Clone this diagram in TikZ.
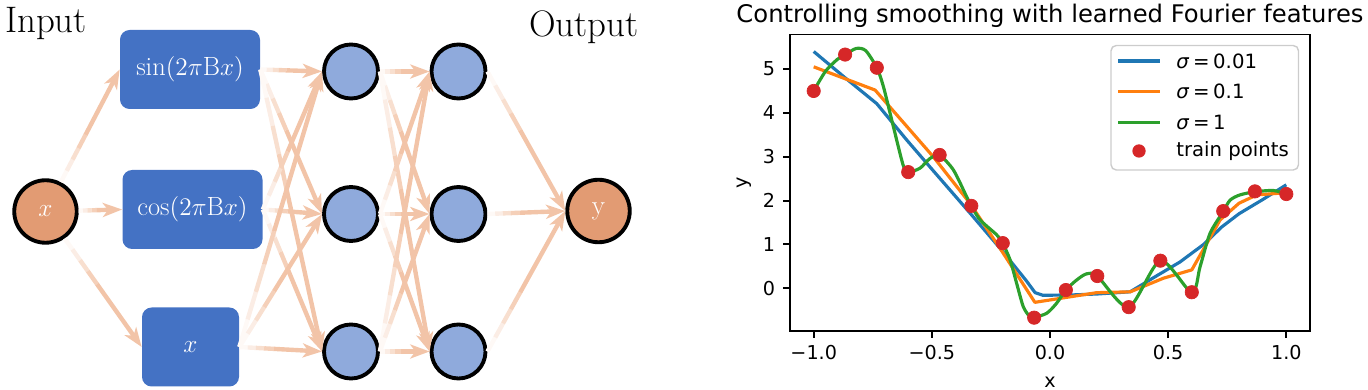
\documentclass[tikz,border=0pt]{standalone}
\usepackage{fontspec}
\newfontfamily\plotfont{DejaVu Sans}
\usetikzlibrary{arrows.meta}
\definecolor{featblue}{HTML}{4472C4}
\definecolor{hiddenblue}{HTML}{8FAADC}
\definecolor{nodeorange}{HTML}{E29B73}
\definecolor{linkpeach}{HTML}{F2C4A8}
\definecolor{legendgray}{HTML}{CCCCCC}
\definecolor{mplblue}{HTML}{1F77B4}
\definecolor{mplorange}{HTML}{FF7F0E}
\definecolor{mplgreen}{HTML}{2CA02C}
\definecolor{mplred}{HTML}{D62728}

% fading connector: pale at its start, full colour with a tip at its end
\newcommand{\peachlink}[2]{%
  \path (#1) -- (#2)
    coordinate[pos=0.1] (f1) coordinate[pos=0.2] (f2)
    coordinate[pos=0.3] (f3) coordinate[pos=0.42] (f4);
  \draw[link, draw=linkpeach!10] (#1) -- (f1);
  \draw[link, draw=linkpeach!30] (f1) -- (f2);
  \draw[link, draw=linkpeach!55] (f2) -- (f3);
  \draw[link, draw=linkpeach!80] (f3) -- (f4);
  \draw[link, ->] (f4) -- (#2);
}

\begin{document}
\begin{tikzpicture}[
  >={Stealth[length=11pt, width=8pt, inset=3pt]},
  headtext/.style={
    font=\fontsize{21}{24}\selectfont,
    inner sep=0pt,
    anchor=base
  },
  ionode/.style={
    circle,
    draw=black,
    line width=2.2pt,
    fill=nodeorange,
    minimum size=1.25cm,
    inner sep=0pt,
    text=white,
    font=\fontsize{15.5}{17}\selectfont
  },
  hiddennode/.style={
    circle,
    draw=black,
    line width=2.2pt,
    fill=hiddenblue,
    minimum size=1.08cm,
    inner sep=0pt
  },
  featbox/.style={
    rectangle,
    rounded corners=5.5pt,
    fill=featblue,
    minimum height=1.58cm,
    inner sep=0pt,
    text=white,
    font=\fontsize{15}{17}\selectfont
  },
  link/.style={
    line width=2.5pt,
    draw=linkpeach
  },
  spine/.style={
    line width=1.1pt,
    draw=black
  },
  ticklabel/.style={
    font=\plotfont\fontsize{10.9}{13}\selectfont,
    inner sep=0pt
  },
  legendtext/.style={
    font=\plotfont\fontsize{11.2}{13}\selectfont,
    inner sep=0pt,
    anchor=base west
  },
  curve/.style={
    line width=1.8pt,
    line join=round
  }
]
  \useasboundingbox (0,0) rectangle (27.36,7.8);

  % ----------------------------------------------------
  % LEFT: FOURIER FEATURE NETWORK
  % ----------------------------------------------------
  \node[headtext] (in_hdr) at (0.92, 7.14) {Input};
  \node[headtext] (out_hdr) at (11.68, 7.06) {Output};

  \node[ionode] (xin) at (0.91, 3.57) {$x$};

  \node[featbox, minimum width=2.8cm] (f_sin) at (3.80, 6.41) {$\sin(2\pi\mathrm{B}x)$};
  \node[featbox, minimum width=2.8cm] (f_cos) at (3.85, 3.61) {$\cos(2\pi\mathrm{B}x)$};
  \node[featbox, minimum width=1.94cm] (f_id) at (3.81, 0.86) {$x$};

  \node[hiddennode] (h1a) at (7.02, 6.37) {};
  \node[hiddennode] (h1b) at (7.02, 3.52) {};
  \node[hiddennode] (h1c) at (7.02, 0.77) {};

  \node[hiddennode] (h2a) at (9.17, 6.37) {};
  \node[hiddennode] (h2b) at (9.17, 3.52) {};
  \node[hiddennode] (h2c) at (9.17, 0.77) {};

  \node[ionode] (yout) at (11.97, 3.58) {y};

  % input to features
  \peachlink{xin}{f_sin.west}
  \peachlink{xin}{f_cos.west}
  \peachlink{xin}{f_id.west}

  % features to first hidden layer
  \peachlink{f_sin.east}{h1a.west}
  \peachlink{f_sin.east}{h1b.west}
  \peachlink{f_sin.east}{h1c.west}
  \peachlink{f_cos.east}{h1a.west}
  \peachlink{f_cos.east}{h1b.west}
  \peachlink{f_cos.east}{h1c.west}
  \peachlink{f_id.east}{h1a.west}
  \peachlink{f_id.east}{h1b.west}
  \peachlink{f_id.east}{h1c.west}

  % first to second hidden layer
  \peachlink{h1a.east}{h2a.west}
  \peachlink{h1a.east}{h2b.west}
  \peachlink{h1a.east}{h2c.west}
  \peachlink{h1b.east}{h2a.west}
  \peachlink{h1b.east}{h2b.west}
  \peachlink{h1b.east}{h2c.west}
  \peachlink{h1c.east}{h2a.west}
  \peachlink{h1c.east}{h2b.west}
  \peachlink{h1c.east}{h2c.west}

  % second hidden layer to output
  \peachlink{h2a.east}{yout.west}
  \peachlink{h2b.east}{yout.west}
  \peachlink{h2c.east}{yout.west}

  % ----------------------------------------------------
  % RIGHT: SMOOTHING PLOT
  % ----------------------------------------------------
  \node[font=\plotfont\fontsize{13.8}{16}\selectfont, anchor=base, inner sep=0pt] (plot_title) at (21.0, 7.34) {Controlling smoothing with learned Fourier features};

  \begin{scope}[shift={(21.0, 2.034)}, x=4.726cm, y=0.877cm]
    % fitted curves
    \draw[curve, mplblue] plot coordinates {
      (-1.0,5.40) (-0.867,4.80) (-0.733,4.21) (-0.606,3.38) (-0.494,2.68)
      (-0.336,1.70) (-0.2,0.84) (-0.1,0.17) (-0.063,-0.10) (-0.03,-0.16)
      (0.1,-0.15) (0.2,-0.13) (0.339,-0.08) (0.45,0.28) (0.55,0.60)
      (0.65,1.00) (0.727,1.40) (0.8,1.70) (0.896,2.01) (1.0,2.36)};
    \draw[curve, mplorange] plot coordinates {
      (-1.0,5.05) (-0.74,4.52) (-0.494,3.00) (-0.339,1.94) (-0.198,0.80)
      (-0.064,-0.32) (0.197,-0.10) (0.34,-0.08) (0.48,0.23) (0.6,0.42)
      (0.72,1.56) (0.80,1.94) (0.875,2.13) (1.0,2.18)};
    \draw[curve, mplgreen] plot[smooth, tension=0.45] coordinates {
      (-1.0,4.50) (-0.95,4.95) (-0.9,5.22) (-0.867,5.33) (-0.82,5.47)
      (-0.78,5.42) (-0.733,5.03) (-0.705,4.60) (-0.663,3.69) (-0.621,2.80)
      (-0.6,2.65) (-0.55,2.74) (-0.508,2.96) (-0.467,3.03) (-0.409,2.70)
      (-0.353,2.09) (-0.333,1.88) (-0.296,1.56) (-0.226,1.22) (-0.2,1.02)
      (-0.169,0.65) (-0.141,0.11) (-0.113,-0.42) (-0.085,-0.65) (-0.067,-0.66)
      (-0.014,-0.57) (0.028,-0.34) (0.067,-0.04) (0.113,0.19) (0.155,0.33)
      (0.2,0.28) (0.333,-0.43) (0.467,0.63) (0.6,-0.10) (0.635,0.49)
      (0.677,1.25) (0.733,1.75) (0.762,2.01) (0.804,2.13) (0.867,2.20)
      (0.945,2.23) (1.0,2.15)};

    % training samples
    \draw[mplred, mark=*, mark size=3.8pt, mark options={draw=none, fill=mplred}] plot[only marks] coordinates {
      (-1.0,4.50) (-0.867,5.33) (-0.733,5.03) (-0.6,2.65) (-0.467,3.04)
      (-0.333,1.88) (-0.2,1.03) (-0.067,-0.67) (0.067,-0.04) (0.2,0.28)
      (0.333,-0.43) (0.467,0.63) (0.6,-0.09) (0.733,1.76) (0.867,2.21)
      (1.0,2.15)};

    % axes frame and ticks
    \draw[spine] (-1.1,-0.967) rectangle (1.1,5.787);

    \draw[spine] (-1.0,-0.967) -- ++(0pt,-4pt) node[ticklabel, anchor=north, yshift=-4pt] (xt_a) {−1.0};
    \draw[spine] (-0.5,-0.967) -- ++(0pt,-4pt) node[ticklabel, anchor=north, yshift=-4pt] (xt_b) {−0.5};
    \draw[spine] (0.0,-0.967) -- ++(0pt,-4pt) node[ticklabel, anchor=north, yshift=-4pt] (xt_c) {0.0};
    \draw[spine] (0.5,-0.967) -- ++(0pt,-4pt) node[ticklabel, anchor=north, yshift=-4pt] (xt_d) {0.5};
    \draw[spine] (1.0,-0.967) -- ++(0pt,-4pt) node[ticklabel, anchor=north, yshift=-4pt] (xt_e) {1.0};

    \draw[spine] (-1.1,0) -- ++(-4pt,0pt) node[ticklabel, anchor=east, xshift=-4pt] (yt_0) {0};
    \draw[spine] (-1.1,1) -- ++(-4pt,0pt) node[ticklabel, anchor=east, xshift=-4pt] (yt_1) {1};
    \draw[spine] (-1.1,2) -- ++(-4pt,0pt) node[ticklabel, anchor=east, xshift=-4pt] (yt_2) {2};
    \draw[spine] (-1.1,3) -- ++(-4pt,0pt) node[ticklabel, anchor=east, xshift=-4pt] (yt_3) {3};
    \draw[spine] (-1.1,4) -- ++(-4pt,0pt) node[ticklabel, anchor=east, xshift=-4pt] (yt_4) {4};
    \draw[spine] (-1.1,5) -- ++(-4pt,0pt) node[ticklabel, anchor=east, xshift=-4pt] (yt_5) {5};
  \end{scope}

  \node[ticklabel] (x_lbl) at (21.0, 0.16) {x};
  \node[ticklabel, rotate=90] (y_lbl) at (14.88, 4.14) {y};

  % legend
  \draw[draw=legendgray, fill=white, fill opacity=0.8, line width=0.8pt, rounded corners=3pt] (22.22, 4.40) rectangle (25.97, 6.89);
  \draw[curve, mplblue] (22.36, 6.58) -- (23.20, 6.58);
  \draw[curve, mplorange] (22.36, 5.966) -- (23.20, 5.966);
  \draw[curve, mplgreen] (22.36, 5.354) -- (23.20, 5.354);
  \fill[mplred] (22.78, 4.78) circle (0.133);
  \node[legendtext] (leg_a) at (23.52, 6.434) {{\itshape σ}\kern2.5pt=\kern2pt0.01};
  \node[legendtext] (leg_b) at (23.52, 5.82) {{\itshape σ}\kern2.5pt=\kern2pt0.1};
  \node[legendtext] (leg_c) at (23.52, 5.206) {{\itshape σ}\kern2.5pt=\kern2pt1};
  \node[legendtext] (leg_d) at (23.52, 4.666) {train points};

\end{tikzpicture}
\end{document}
